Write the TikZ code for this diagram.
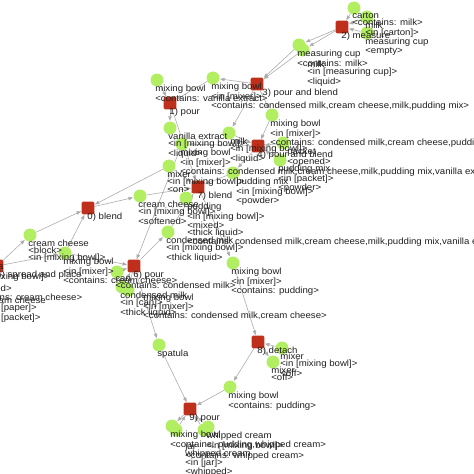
\documentclass[tikz,border=0pt]{standalone}
\usepackage{fontspec}
\setmainfont[FakeStretch=1.07]{Liberation Sans}
\usetikzlibrary{arrows.meta,backgrounds}
\definecolor{stategreen}{RGB}{178,238,98}
\definecolor{actred}{RGB}{190,48,28}
\definecolor{edgegray}{RGB}{172,172,172}
\tikzset{
  state/.style={circle,minimum size=13pt,inner sep=0pt},
  act/.style={rectangle,minimum size=12.5pt,inner sep=0pt},
  txt/.style={align=left,inner sep=0pt,text=black!88,font=\fontsize{9}{7}\selectfont},
  slbl/.style={txt,xshift=-6.6pt,yshift=-0.2pt},
  albl/.style={txt,xshift=-7.2pt,yshift=1.2pt},
  flow/.style={-{Triangle[length=4.5pt,width=3.5pt]},draw=edgegray,line width=0.6pt,shorten >=0.5pt}
}
\begin{document}
\begin{tikzpicture}[x=1pt,y=-1pt]
\useasboundingbox (0,0) rectangle (474,474);
% 2) measure
\node[state,label={[slbl]below right:{carton\\<contains: milk>}}] (carton) at (354,8) {};
\node[state,label={[slbl]below right:{milk\\<in [carton]>}}] (milkC) at (367,17) {};
\node[state,label={[slbl]below right:{measuring cup\\<empty>}}] (cupE) at (367,33) {};
\node[act,label={[albl]below right:{2) measure}}] (A2) at (342,27) {};
\node[state,label={[slbl]below right:{measuring cup\\<contains: milk>}}] (cupM) at (299,45) {};
\node[state,label={[slbl,xshift=6pt,yshift=-6pt]below right:{milk\\<in [measuring cup]>\\<liquid>}}] (milkM) at (303,50) {};
% 3) and 1)
\node[state,label={[slbl]below right:{mixing bowl\\<contains: vanilla extract>}}] (bowlVan) at (157,80) {};
\node[state,label={[slbl]below right:{mixing bowl\\<in [mixer]>\\<contains: condensed milk,cream cheese,milk,pudding mix>}}] (bowlMilk) at (213,78) {};
\node[act,label={[albl,xshift=6pt]below right:{3) pour and blend}}] (A3) at (257,84) {};
\node[act,label={[albl]below right:{1) pour}}] (A1) at (170,103) {};
\node[state,label={[slbl]below right:{mixing bowl\\<in [mixer]>\\<contains: condensed milk,cream cheese,pudding mix>}}] (bowlPud) at (272,115) {};
\node[state,label={[slbl]below right:{vanilla extract\\<in [mixing bowl]>\\<liquid>}}] (vanilla) at (170,128) {};
\node[state,label={[slbl,xshift=3pt]below right:{milk\\<in [mixing bowl]>\\<liquid>}}] (milkB) at (229,133) {};
% 4) pour and blend
\node[act,label={[albl]below right:{4) pour and blend}}] (A4) at (258,146) {};
\node[state,label={[slbl,xshift=6pt]below right:{packet\\<opened>}}] (packet) at (283,143) {};
\node[state,label={[slbl]below right:{pudding mix\\<in [packet]>\\<powder>}}] (pudPacket) at (280,160) {};
\node[state,label={[slbl]below right:{mixing bowl\\<in [mixer]>\\<contains: condensed milk,cream cheese,milk,pudding mix,vanilla extract>}}] (bowlAll) at (182,144) {};
% 7) blend and 0) blend
\node[state,label={[slbl]below right:{mixer\\<in [mixing bowl]>\\<on>}}] (mixerOn) at (169,166) {};
\node[state,label={[slbl,xshift=5pt]below right:{pudding mix\\<in [mixing bowl]>\\<powder>}}] (pudBowl) at (233,173) {};
\node[act,label={[albl]below right:{7) blend}}] (A7) at (198,187) {};
\node[state,label={[slbl]below right:{cream cheese\\<in [mixing bowl]>\\<softened>}}] (cheeseSoft) at (140,196) {};
\node[state,label={[slbl,xshift=3pt]below right:{pudding\\<in [mixing bowl]>\\<mixed>\\<thick liquid>\\<contains: condensed milk,cream cheese,milk,pudding mix,vanilla extract>}}] (pudding) at (186,198) {};
\node[act,label={[albl]below right:{0) blend}}] (A0) at (88,208) {};
\node[state,label={[slbl]below right:{condensed milk\\<in [mixing bowl]>\\<thick liquid>}}] (condBowl) at (168,232) {};
\node[state,label={[slbl]below right:{cream cheese\\<block>\\<in [mixing bowl]>}}] (cheeseBlock) at (30,235) {};
\node[state,label={[slbl]below right:{mixing bowl\\<in [mixer]>\\<contains: cream cheese>}}] (bowlCheese) at (65,253) {};
\node[state,label={[slbl]below right:{mixing bowl\\<in [mixer]>\\<contains: pudding>}}] (bowlPudding) at (233,263) {};
% 5) and 6)
\node[act,label={[albl]below right:{5) spread and place}}] (A5) at (-3,266) {};
\node[state,label={[slbl]below right:{spatula\\<in [mixing bowl]>}}] (spatBowl) at (-26,258) {};
\node[state,label={[slbl]below right:{packet\\<opened>\\<contains: cream cheese>}}] (packetCheese) at (-30,270) {};
\node[state,label={[slbl]below right:{cream cheese\\<in [paper]>\\<in [packet]>}}] (cheesePaper) at (-13,292) {};
\node[act,label={[albl]below right:{6) pour}}] (A6) at (134,266) {};
\node[state,label={[slbl]below right:{can\\<contains: condensed milk>}}] (can) at (117,272) {};
\node[state,label={[slbl]below right:{condensed milk\\<in [can]>\\<thick liquid>}}] (condCan) at (122,287) {};
\node[state,label={[slbl,xshift=17pt,yshift=1.5pt]below right:{mixing bowl\\<in [mixer]>\\<contains: condensed milk,cream cheese>}}] (bowlCond) at (128,290) {};
% 8) detach and 9) pour
\node[state,label={[slbl]below right:{spatula}}] (spatula) at (159,345) {};
\node[act,label={[albl]below right:{8) detach}}] (A8) at (258,342) {};
\node[state,label={[slbl]below right:{mixer\\<in [mixing bowl]>\\<off>}}] (mixerIn) at (282,348) {};
\node[state,label={[slbl]below right:{mixer\\<off>}}] (mixerOff) at (273,362) {};
\node[state,label={[slbl]below right:{mixing bowl\\<contains: pudding>}}] (bowlDone) at (230,387) {};
\node[act,label={[albl]below right:{9) pour}}] (A9) at (190,409) {};
\node[state,label={[slbl]below right:{mixing bowl\\<contains: pudding,whipped cream>}}] (bowlWhip) at (172,426) {};
\node[state,label={[slbl]below right:{whipped cream\\<in [mixing bowl]>}}] (whipBowl) at (208,427) {};
\node[state,label={[slbl,xshift=-17pt,yshift=-7.5pt]below right:{jar\\<contains: whipped cream>}}] (jar) at (204,430) {};
\node[state,label={[slbl,xshift=11pt,yshift=-14.5pt]below right:{whipped cream\\<in [jar]>\\<whipped>}}] (whipJar) at (176,430) {};

\begin{scope}[on background layer]
% connectors
\draw[flow] (carton) -- (A2);
\draw[flow] (milkC) -- (A2);
\draw[flow] (cupE) -- (A2);
\draw[flow] (A2) -- (cupM);
\draw[flow] (A2) -- (milkM);
\draw[flow] (cupM) -- (A3);
\draw[flow] (milkM) -- (A3);
\draw[flow] (A3) -- (bowlMilk);
\draw[flow] (A3) -- (bowlPud);
\draw[flow] (A3) -- (milkB);
\draw[flow] (bowlPud) -- (A4);
\draw[flow] (milkB) -- (A4);
\draw[flow] (packet) -- (A4);
\draw[flow] (pudPacket) -- (A4);
\draw[flow] (A4) -- (pudBowl);
\draw[flow] (A4) -- (bowlAll);
\draw[flow] (bowlMilk) -- (A1);
\draw[flow] (bowlVan) -- (A1);
\draw[flow] (A1) -- (vanilla);
\draw[flow] (A1) -- (A7);
\draw[flow] (bowlAll) -- (A6);
\draw[flow] (mixerOn) -- (A0);
\draw[flow] (mixerOn) -- (A7);
\draw[flow] (cheeseBlock) -- (A0);
\draw[flow] (bowlCheese) -- (A0);
\draw[flow] (A0) -- (cheeseSoft);
\draw[flow] (cheeseSoft) -- (A7);
\draw[flow] (pudBowl) -- (A7);
\draw[flow] (condBowl) -- (A7);
\draw[flow] (A7) -- (pudding);
\draw[flow] (A7) -- (bowlPudding);
\draw[flow] (A5) -- (cheeseBlock);
\draw[flow] (A5) -- (bowlCheese);
\draw[flow] (A5) -- (spatBowl);
\draw[flow] (packetCheese) -- (A5);
\draw[flow] (cheesePaper) -- (A5);
\draw[flow] (bowlCheese) -- (A6);
\draw[flow] (can) -- (A6);
\draw[flow] (condCan) -- (A6);
\draw[flow] (A6) -- (condBowl);
\draw[flow] (A6) -- (bowlCond);
\draw[flow] (A6) -- (spatula);
\draw[flow] (spatula) -- (A9);
\draw[flow] (bowlPudding) -- (A8);
\draw[flow] (mixerIn) -- (A8);
\draw[flow] (A8) -- (mixerOff);
\draw[flow] (A8) -- (bowlDone);
\draw[flow] (bowlDone) -- (A9);
\draw[flow] (A9) -- (bowlWhip);
\draw[flow] (A9) -- (whipBowl);
\draw[flow] (jar) -- (A9);
\draw[flow] (whipJar) -- (A9);
% node shapes
\foreach \n in {carton,milkC,cupE,cupM,milkM,bowlVan,bowlMilk,bowlPud,vanilla,milkB,
  packet,pudPacket,bowlAll,mixerOn,pudBowl,cheeseSoft,pudding,condBowl,cheeseBlock,
  bowlCheese,bowlPudding,spatBowl,packetCheese,cheesePaper,can,condCan,bowlCond,
  spatula,mixerIn,mixerOff,bowlDone,bowlWhip,whipBowl,jar,whipJar}
  \fill[stategreen] (\n) circle[radius=6.5pt];
\foreach \n in {A0,A1,A2,A3,A4,A5,A6,A7,A8,A9}
  \fill[actred,rounded corners=1.5pt] (\n.south west) rectangle (\n.north east);
\end{scope}
\end{tikzpicture}
\end{document}
